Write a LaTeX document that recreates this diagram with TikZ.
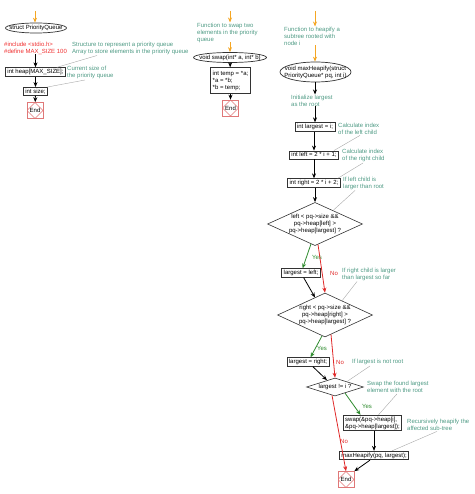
\documentclass[tikz,border=0pt]{standalone}
\usepackage{fontspec}
\setmainfont{Liberation Sans}
\usepackage{tikz}
\usetikzlibrary{calc,arrows.meta,shapes.geometric}

\definecolor{cmtgreen}{HTML}{4E9A84}
\definecolor{incred}{HTML}{F03030}
\definecolor{startorange}{HTML}{F5A623}
\definecolor{yesgreen}{HTML}{2E8B2E}
\definecolor{nored}{HTML}{E02828}
\definecolor{linegray}{HTML}{A8A8A8}
\definecolor{endred}{HTML}{E07878}

\tikzset{
    box/.style={draw=black!80, line width=0.7pt, inner xsep=2pt, inner ysep=1.5pt, fill=white},
    ell/.style={ellipse, draw=black!80, line width=0.7pt, inner xsep=-10pt, inner ysep=-3pt, align=center},
    dec/.style={diamond, draw=black!80, line width=0.6pt, inner sep=0pt, aspect=2.2, align=center},
    cmt/.style={text=cmtgreen, align=left, inner sep=0pt},
    yeslbl/.style={text=yesgreen},
    nolbl/.style={text=nored},
    flow/.style={-{Stealth[length=5pt,width=4pt]}, line width=0.8pt, color=black},
    startarr/.style={flow, color=startorange},
    yesarr/.style={flow, color=yesgreen},
    noarr/.style={flow, color=nored},
    cline/.style={draw=linegray, line width=0.4pt},
    endbox/.style={draw=endred, line width=0.6pt, minimum size=16pt, inner sep=0pt,
        path picture={\draw[endred, line width=0.5pt] (path picture bounding box.north) -- (path picture bounding box.east)
            -- (path picture bounding box.south) -- (path picture bounding box.west) -- cycle;}}
}

\begin{document}
\begin{tikzpicture}[x=1pt, y=-1pt, every node/.style={font=\fontsize{6}{7}\selectfont}]
    \useasboundingbox (0,0) rectangle (474,494);

    % struct PriorityQueue
    \coordinate (pq_in) at (35, 11);
    \node[ell, minimum width=61pt, minimum height=10pt] (pq_head) at (36, 28) {struct PriorityQueue};
    \node[anchor=north west, text=incred, align=left, inner sep=0pt] (pq_inc) at (4, 41.5)
    {\#include <stdio.h>\\\#define MAX\_SIZE 100};
    \node[cmt, anchor=north west] (pq_cmt) at (72, 41.5)
    {Structure to represent a priority queue\\Array to store elements in the priority queue};
    \node[box] (pq_heap) at (35.5, 72) {int heap[MAX\_SIZE];};
    \node[cmt, anchor=west] (pq_cmt_size) at (67, 72.5) {Current size of\\the priority queue};
    \node[box] (pq_size) at (35.5, 91.5) {int size;};
    \node[endbox] (pq_end) at (35, 110.5) {End};

    \draw[startarr] (pq_in) -- (pq_in |- pq_head.north);
    \draw[flow] (pq_inc.south -| pq_heap) -- (pq_heap);
    \draw[flow] (pq_heap) -- (pq_size);
    \draw[flow] (pq_size) -- (pq_end);
    \draw[cline] ($(pq_heap.north east)+(-9,0)$) -- ($(pq_cmt.south west)+(25,1)$);
    \draw[cline] ($(pq_size.north east)+(-1,0)$) -- ($(pq_cmt_size.south west)+(18,1)$);

    % swap
    \coordinate (sw_in) at (230, 11);
    \node[cmt, anchor=north west] (sw_cmt) at (197, 22.5)
    {Function to swap two\\elements in the priority\\queue};
    \node[ell, minimum width=73pt, minimum height=10pt] (sw_head) at (230, 57.5) {void swap(int* a, int* b)};
    \node[box, align=left, inner ysep=3pt] (sw_body) at (230.5, 80.5) {int temp = *a;\\*a = *b;\\*b = temp;};
    \node[endbox] (sw_end) at (230.5, 108) {End};

    \draw[startarr] (sw_in) -- (sw_in |- sw_cmt.north);
    \draw[startarr] (sw_in |- sw_cmt.south) -- (sw_head);
    \draw[flow] (sw_head) -- (sw_body);
    \draw[flow] (sw_body) -- (sw_end);

    % maxHeapify
    \coordinate (mh_in) at (315, 11);
    \node[cmt, anchor=north west] (mh_cmt) at (284, 26.5)
    {Function to heapify a\\subtree rooted with\\node i};
    \node[ell, minimum width=71pt, minimum height=20pt] (mh_head) at (315.5, 72)
    {void maxHeapify(struct\\PriorityQueue* pq, int i)};
    \node[cmt, anchor=north west] (mh_init) at (291, 94.5) {Initialize largest\\as the root};
    \node[box] (mh_largest) at (315, 127) {int largest = i;};
    \node[cmt, anchor=west] (mh_cmt_l) at (338, 128.5) {Calculate index\\of the left child};
    \node[box] (mh_left) at (314, 155) {int left = 2 * i + 1;};
    \node[cmt, anchor=west] (mh_cmt_r) at (342, 155.5) {Calculate index\\of the right child};
    \node[box] (mh_right) at (314, 183) {int right = 2 * i + 2;};
    \node[cmt, anchor=west] (mh_cmt_d1) at (343, 183) {If left child is\\larger than root};
    \node[dec, minimum width=90pt, minimum height=42pt] (mh_d1) at (315, 224)
    {left < pq->size \&\&\\pq->heap[left] >\\pq->heap[largest] ?};
    \node[box] (mh_setl) at (301, 273) {largest = left;};
    \node[yeslbl] (mh_yes1) at (317, 257) {Yes};
    \node[nolbl] (mh_no1) at (334, 273.5) {No};
    \node[cmt, anchor=west] (mh_cmt_d2) at (342, 274) {If right child is larger\\than largest so far};
    \node[dec, minimum width=92pt, minimum height=44pt] (mh_d2) at (325, 315)
    {right < pq->size \&\&\\pq->heap[right] >\\pq->heap[largest] ?};
    \node[box] (mh_setr) at (308, 362) {largest = right;};
    \node[yeslbl] (mh_yes2) at (322, 348) {Yes};
    \node[nolbl] (mh_no2) at (340, 362.5) {No};
    \node[cmt, anchor=west] (mh_cmt_d3) at (352, 362) {If largest is not root};
    \node[dec, aspect=3, minimum width=57pt, minimum height=18pt] (mh_d3) at (335, 387) {largest != i ?};
    \node[cmt, anchor=west] (mh_cmt_sw) at (367, 387) {Swap the found largest\\element with the root};
    \node[yeslbl] (mh_yes3) at (367, 406) {Yes};
    \node[box, align=left] (mh_swap) at (372.5, 423) {swap(\&pq->heap[i],\\\&pq->heap[largest]);};
    \node[cmt, anchor=west] (mh_cmt_rec) at (407, 424.5) {Recursively heapify the\\affected sub-tree};
    \node[box] (mh_rec) at (374, 455.5) {maxHeapify(pq, largest);};
    \node[nolbl] (mh_no3) at (344, 441) {No};
    \node[endbox] (mh_end) at (346, 479.5) {End};

    \draw[startarr] (mh_in) -- (mh_in |- mh_cmt.north);
    \draw[startarr] (mh_in |- mh_cmt.south) -- (mh_in |- mh_head.north);
    \draw[flow] (mh_head.south -| mh_largest) -- (mh_init.north -| mh_largest);
    \draw[flow] (mh_init.south -| mh_largest) -- (mh_largest);
    \draw[flow] (mh_largest.south -| mh_left) -- (mh_left);
    \draw[flow] (mh_left) -- (mh_right);
    \draw[flow] (mh_right.south -| mh_d1) -- (mh_d1);
    \draw[yesarr] ($(mh_d1.south)+(-4,-2)$) -- (mh_setl);
    \draw[noarr] ($(mh_d1.south)+(3,-1.4)$) -- (mh_d2.north);
    \draw[flow] (mh_setl) -- ($(mh_d2.north)+(-10,4.8)$);
    \draw[yesarr] ($(mh_d2.south)+(-3,-1.4)$) -- (mh_setr);
    \draw[noarr] ($(mh_d2.south)+(6,-2.9)$) -- (mh_d3.north);
    \draw[flow] (mh_setr) -- ($(mh_d3.north)+(-8,2.5)$);
    \draw[yesarr] ($(mh_d3.south)+(10,-3.2)$) -- ($(mh_swap.north)+(-12,0)$);
    \draw[noarr] ($(mh_d3.south)+(-3,-1)$) -- (mh_end.north);
    \draw[flow] (mh_swap.south -| mh_rec) -- (mh_rec);
    \draw[flow] ($(mh_rec.south)+(-4,0)$) -- (mh_end.north east);

    % comment lines
    \draw[cline] ($(mh_left.north east)+(-5,0)$) -- ($(mh_cmt_l.south west)+(22,1)$);
    \draw[cline] ($(mh_right.north east)+(-3,0)$) -- ($(mh_cmt_r.south west)+(21,1)$);
    \draw[cline] ($(mh_d1.north)+(18,8.4)$) -- ($(mh_cmt_d1.south west)+(12,1)$);
    \draw[cline] ($(mh_d2.north)+(17,8.1)$) -- ($(mh_cmt_d2.south west)+(15,1)$);
    \draw[cline] ($(mh_d3.north)+(12,3.8)$) -- ($(mh_cmt_d3.south west)+(18,1)$);
    \draw[cline] ($(mh_swap.north)+(6,0)$) -- ($(mh_cmt_sw.south west)+(30,1)$);
    \draw[cline] ($(mh_rec.north)+(18,0)$) -- ($(mh_cmt_rec.south west)+(30,1)$);
\end{tikzpicture}
\end{document}
